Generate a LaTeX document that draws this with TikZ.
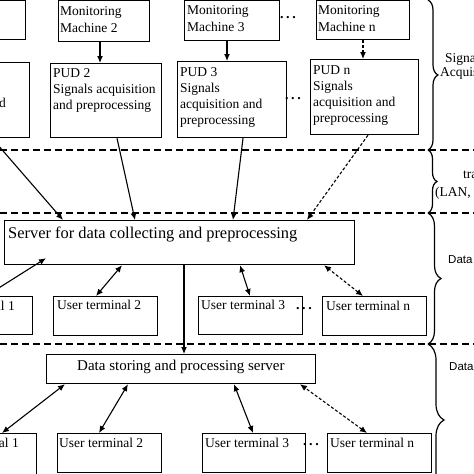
\documentclass[tikz,border=0pt]{standalone}
\usepackage{fontspec}
\setmainfont{Liberation Serif}
\newfontfamily\labsans{Liberation Sans}
\usetikzlibrary{arrows.meta,decorations.pathreplacing,calc}
\begin{document}
\begin{tikzpicture}[x=1pt,y=-1pt,
  box/.style={draw, line width=1.2pt, inner sep=0pt, anchor=north west, rectangle},
  txt/.style={inner sep=0pt, anchor=base west, font=\fontsize{13.5}{16}\selectfont},
  txtr/.style={inner sep=0pt, anchor=base east, font=\fontsize{13.5}{16}\selectfont},
  arr/.style={line width=1.1pt, -{Latex[length=7pt,width=6pt]}},
  darr/.style={line width=1.1pt, {Latex[length=7pt,width=6pt]}-{Latex[length=7pt,width=6pt]}},
  dsh/.style={dash pattern=on 3pt off 2pt},
  sep/.style={line width=2pt, dash pattern=on 7pt off 4pt},
  brc/.style={line width=1.2pt, decorate, decoration={brace, amplitude=#1}},
  ellip/.style={inner sep=0pt, anchor=center, font=\bfseries\fontsize{14}{16}\selectfont},
  sanslab/.style={inner sep=0pt, anchor=base west, font=\labsans\fontsize{11.5}{13}\selectfont},
]
\useasboundingbox (0,0) rectangle (474,474);
\clip (0,0) rectangle (474,474);

% top row: monitoring machines
\node[box, minimum width=65pt, minimum height=39pt] (m1) at (-40,0) {};
\node[box, minimum width=91pt, minimum height=41pt] (m2) at (58,0) {};
\node[box, minimum width=95pt, minimum height=40pt] (m3) at (184,0) {};
\node[box, minimum width=93pt, minimum height=39pt] (mn) at (316,0) {};
\node[txt] (tm2a) at (60,15) {Monitoring};
\node[txt] (tm2b) at (60,32) {Machine 2};
\node[txt] (tm3a) at (187,14) {Monitoring};
\node[txt] (tm3b) at (187,31) {Machine 3};
\node[txt] (tmna) at (318,14) {Monitoring};
\node[txt] (tmnb) at (318,31) {Machine n};
\node[ellip] (dm) at (288,18) {.\kern2.6pt.\kern2.6pt.};

% PUD row
\node[box, minimum width=109pt, minimum height=75pt] (p1) at (-80,62) {};
\node[box, minimum width=111pt, minimum height=74pt] (p2) at (50,63) {};
\node[box, minimum width=109pt, minimum height=76pt] (p3) at (177,61) {};
\node[box, minimum width=108pt, minimum height=75pt] (pn) at (310,59) {};
\node[txtr] (tp1) at (6,107) {and};
\node[txt] (tp2a) at (53,77) {PUD 2};
\node[txt] (tp2b) at (53,93) {Signals acquisition};
\node[txt] (tp2c) at (53,109) {and preprocessing};
\node[txt] (tp3a) at (180,76) {PUD 3};
\node[txt] (tp3b) at (180,92) {Signals};
\node[txt] (tp3c) at (180,108) {acquisition and};
\node[txt] (tp3d) at (180,124) {preprocessing};
\node[txt] (tpna) at (313,74) {PUD n};
\node[txt] (tpnb) at (313,90) {Signals};
\node[txt] (tpnc) at (313,106) {acquisition and};
\node[txt] (tpnd) at (313,122) {preprocessing};
\node[ellip] (dp) at (293,99) {.\kern2.6pt.\kern2.6pt.};

\draw[arr] ([xshift=42pt]m2.south west) -- ([xshift=50pt]p2.north west);
\draw[arr] ([xshift=43pt]m3.south west) -- ([xshift=50pt]p3.north west);
\draw[arr,dsh] ([xshift=47pt]mn.south west) -- ([xshift=53pt]pn.north west);

% separators
\coordinate (s1l) at (0,150); \coordinate (s1r) at (474,150);
\coordinate (s2l) at (0,213); \coordinate (s2r) at (474,213);
\coordinate (s3l) at (0,344); \coordinate (s3r) at (474,344);
\draw[sep] (s1l) -- (s1r);
\draw[sep] (s2l) -- (s2r);
\draw[sep] (s3l) -- (s3r);

% server
\node[box, minimum width=350pt, minimum height=44pt] (srv) at (4,220) {};
\node[inner sep=0pt, anchor=base west, font=\fontsize{16.4}{19}\selectfont] (tsrv) at (8,238) {Server for data collecting and preprocessing};

\draw[arr] ([xshift=72pt]p1.south west) -- ([xshift=59pt]srv.north west);
\draw[arr] ([xshift=67pt]p2.south west) -- ([xshift=131pt]srv.north west);
\draw[arr] ([xshift=66pt]p3.south west) -- ([xshift=229pt]srv.north west);
\draw[arr,dsh] ([xshift=58pt]pn.south west) -- ([xshift=303pt]srv.north west);

% user terminals (upper)
\node[box, minimum width=112pt, minimum height=38pt] (u1) at (-80,296) {};
\node[box, minimum width=104pt, minimum height=39pt] (u2) at (53,296) {};
\node[box, minimum width=104pt, minimum height=38pt] (u3) at (198,296) {};
\node[box, minimum width=104pt, minimum height=39pt] (un) at (322,296) {};
\node[txtr] (tu1) at (15,310) {User terminal 1};
\node[txt] (tu2) at (57,309) {User terminal 2};
\node[txt] (tu3) at (201,309) {User terminal 3};
\node[txt] (tun) at (326,310) {User terminal n};
\node[ellip] (du) at (304,309) {.\kern2.6pt.\kern2.6pt.};

\draw[darr] ([xshift=66pt]u1.north west) -- ([xshift=42pt,yshift=7pt]srv.south west);
\draw[darr] ([xshift=43pt]u2.north west) -- ([xshift=118pt]srv.south west);
\draw[darr] ([xshift=52pt]u3.north west) -- ([xshift=236pt]srv.south west);
\draw[darr,dsh] ([xshift=41pt]un.north west) -- ([xshift=320pt]srv.south west);

% data storing server
\node[box, minimum width=269pt, minimum height=29pt] (ds) at (46,354) {};
\node[inner sep=0pt, anchor=base west, font=\fontsize{15}{18}\selectfont] (tds) at (77,370.5) {Data storing and processing server};
\draw[arr] ([xshift=180pt]srv.south west) -- ([xshift=138pt]ds.north west);

% user terminals (lower)
\node[box, minimum width=116pt, minimum height=45pt] (v1) at (-80,433) {};
\node[box, minimum width=104pt, minimum height=39pt] (v2) at (57,433) {};
\node[box, minimum width=103pt, minimum height=39pt] (v3) at (202,433) {};
\node[box, minimum width=104pt, minimum height=39pt] (vn) at (327,433) {};
\node[txtr] (tv1) at (19,447) {User terminal 1};
\node[txt] (tv2) at (59,447.5) {User terminal 2};
\node[txt] (tv3) at (205,447.5) {User terminal 3};
\node[txt] (tvn) at (330,447.5) {User terminal n};
\node[ellip] (dv) at (311,445) {.\kern2.6pt.\kern2.6pt.};

\draw[darr] ([xshift=82pt]v1.north west) -- ([xshift=19pt]ds.south west);
\draw[darr] ([xshift=42pt]v2.north west) -- ([xshift=82pt]ds.south west);
\draw[darr] ([xshift=51pt]v3.north west) -- ([xshift=188pt]ds.south west);
\draw[darr,dsh] ([xshift=40pt]vn.north west) -- ([xshift=254pt]ds.south west);

% braces and layer labels
\coordinate (b1t) at (428,0);   \coordinate (b1b) at (428,150);
\coordinate (b2t) at (428,150); \coordinate (b2b) at (428,213);
\coordinate (b3t) at (428,213); \coordinate (b3b) at (428,344);
\coordinate (b4t) at (428,344); \coordinate (b4b) at (428,496);
\draw[brc=10pt] (b1t) -- (b1b);
\draw[brc=9pt] (b2t) -- (b2b);
\draw[brc=13pt] (b3t) -- (b3b);
\draw[brc=16pt] (b4t) -- (b4b);
\node[txt] (l1a) at (445,62) {Signal};
\node[txt] (l1b) at (440,76) {Acquisition};
\node[txt] (l2a) at (463,178) {transmission};
\node[txt] (l2b) at (435,196) {(LAN, Internet)};
\node[sanslab] (l3) at (448,263) {Data};
\node[sanslab] (l4) at (449,370) {Data};
\end{tikzpicture}
\end{document}
